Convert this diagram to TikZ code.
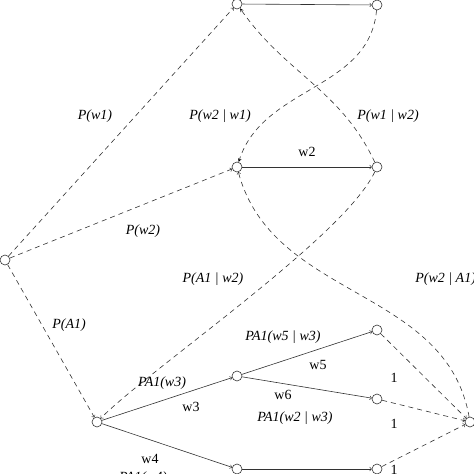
\documentclass[tikz,border=0pt]{standalone}
\usepackage{fontspec}
\setmainfont{Liberation Serif}
\begin{document}
\begin{tikzpicture}[x=1pt, y=1pt, font=\fontsize{14}{16}\selectfont,
	state/.style={shape=circle, draw=black!80, fill=white, inner sep=0pt, minimum size=10pt},
	lab/.style={font=\fontsize{14}{16}\selectfont\itshape, inner sep=0pt},
	word/.style={inner sep=0pt},
	trans/.style={dashed, dash pattern=on 5pt off 4pt, draw=black!80},
	line width=0.6pt]
	\useasboundingbox (0,0) rectangle (474,474);

	\node[state] (0)  at (5,214)   {};
	\node[state] (1)  at (237,470) {};
	\node[state] (2)  at (377,469) {};
	\node[state] (3)  at (237,307) {};
	\node[state] (4)  at (377,307) {};
	\node[state] (5)  at (97,52)   {};
	\node[state] (6)  at (237,98)  {};
	\node[state] (7)  at (377,144) {};
	\node[state] (8)  at (377,75)  {};
	\node[state] (9)  at (470,52)  {};
	\node[state] (10) at (237,5)   {};
	\node[state] (11) at (377,5)   {};

	\path [->, draw=black!80] (1)  edge (2);
	\path [->, draw=black!80] (3)  edge (4);
	\path [->, draw=black!80] (5)  edge (6);
	\path [->, draw=black!80] (6)  edge (7);
	\path [->, draw=black!80] (6)  edge (8);
	\path [->, draw=black!80] (5)  edge (10);
	\path [->, draw=black!80] (10) edge (11);

	\path [->, trans] (0)  edge (1);
	\path [->, trans] (0)  edge (3);
	\path [->, trans] (0)  edge (5);
	\path [-stealth, trans] (2) edge[out=-95, in=72] (3);
	\path [-stealth, trans] (4) edge[out=115, in=-55] (1);
	\path [->, trans] (4)  edge[out=-115, in=45, looseness=0.5] (5);
	\path [->, trans] (9)  edge[out=100, in=-75] (3);
	\path [->, trans] (7)  edge (9);
	\path [->, trans] (8)  edge (9);
	\path [->, trans] (11) edge (9);

	\node[lab]  (l0)  at (95,358)  {P(w1)};
	\node[lab]  (l1)  at (220,358) {P(w2 | w1)};
	\node[lab]  (l2)  at (388,358) {P(w1 | w2)};
	\node[word] (l3)  at (307,322) {w2};
	\node[lab]  (l4)  at (143,243) {P(w2)};
	\node[lab]  (l5)  at (213,195) {P(A1 | w2)};
	\node[lab, anchor=west] (l6) at (415,195) {P(w2 | A1)};
	\node[lab]  (l7)  at (69,149)  {P(A1)};
	\node[lab]  (l8)  at (283,137) {PA1(w5 | w3)};
	\node[word] (l9)  at (318,109) {w5};
	\node[word] (l10) at (394,96)  {1};
	\node[lab]  (l11) at (162,91)  {PA1(w3)};
	\node[word] (l12) at (283,79)  {w6};
	\node[word] (l13) at (191,67)  {w3};
	\node[lab]  (l14) at (295,56)  {PA1(w2 | w3)};
	\node[word] (l15) at (394,50)  {1};
	\node[word] (l16) at (150,15)  {w4};
	\node[lab]  (l17) at (143,-4)  {PA1(w4)};
	\node[word] (l18) at (394,4)   {1};
\end{tikzpicture}
\end{document}
